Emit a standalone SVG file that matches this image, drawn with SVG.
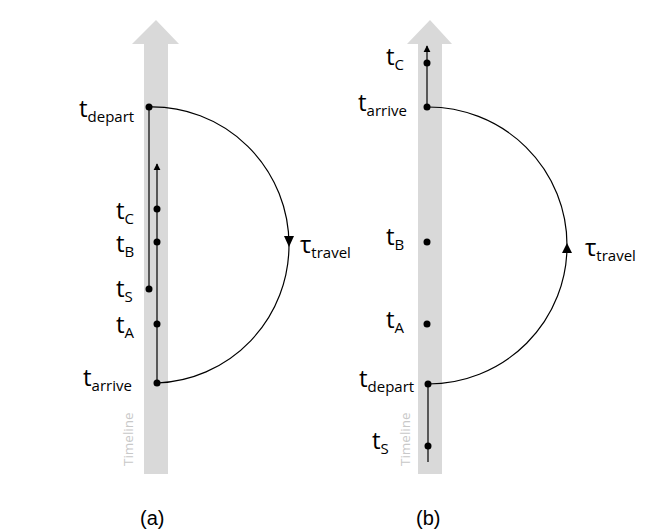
<svg xmlns="http://www.w3.org/2000/svg" width="650" height="532" viewBox="0 0 650 532">
<style>
.bar{fill:#d9d9d9}
.t{font-family:"Open Sans","Liberation Sans",sans-serif;font-size:24px;fill:#000}
.s{font-size:15px}
.tl{font-family:"Open Sans","Liberation Sans",sans-serif;font-size:13.5px;fill:#c8c8c8}
.cap{font-family:"Liberation Sans",sans-serif;font-size:20px;fill:#000}
.ln{stroke:#000;stroke-width:1.2;fill:none}
</style>
<defs>
<marker id="ah" viewBox="0 0 10 10" refX="9" refY="5" markerWidth="6" markerHeight="6" orient="auto"><path d="M0,0L10,5L0,10z" fill="#000"/></marker>
</defs>
<rect width="650" height="532" fill="#fff"/>
<g id="timeline-a">
<path class="bar" d="M144,474V44H132L156,20L179,44H168V474z"/>
<text class="tl" transform="translate(133,466) rotate(-90)">Timeline</text>
</g>
<g id="timeline-b">
<path class="bar" d="M418,474V44H407L430,20L452,44H442V474z"/>
<text class="tl" transform="translate(410,466) rotate(-90)">Timeline</text>
</g>
<g id="connectors">
<path class="ln" d="M149,107V289"/>
<path class="ln" d="M157,383V164" marker-end="url(#ah)"/>
<path class="ln" d="M149,107A137,138 0 0 1 289,245A137,138 0 0 1 157,383"/>
<path d="M284,236L294,236L289,247z" fill="#000"/>
<path class="ln" d="M427,107V46" marker-end="url(#ah)"/>
<path class="ln" d="M428,384V462"/>
<path class="ln" d="M428,384A139,138 0 0 0 567,245A139,138 0 0 0 427,107"/>
<path d="M562,253L572,253L567,243z" fill="#000"/>
</g>
<g id="nodes-a">
<circle cx="149" cy="107" r="3.5"/><circle cx="149" cy="289" r="3.5"/>
<circle cx="157" cy="209" r="3.5"/><circle cx="157" cy="242" r="3.5"/>
<circle cx="157" cy="324" r="3.5"/><circle cx="157" cy="383" r="3.5"/>
<text class="t" x="79" y="117">t<tspan class="s" dy="5">depart</tspan></text>
<text class="t" x="116" y="219">t<tspan class="s" dy="5">C</tspan></text>
<text class="t" x="116" y="252">t<tspan class="s" dy="5">B</tspan></text>
<text class="t" x="116" y="297">t<tspan class="s" dy="5">S</tspan></text>
<text class="t" x="116" y="333">t<tspan class="s" dy="5">A</tspan></text>
<text class="t" x="83" y="386">t<tspan class="s" dy="5">arrive</tspan></text>
<text class="t" x="300" y="253">τ<tspan class="s" dy="5">travel</tspan></text>
</g>
<g id="nodes-b">
<circle cx="427" cy="63" r="3.5"/><circle cx="427" cy="107" r="3.5"/>
<circle cx="427" cy="242" r="3.5"/><circle cx="427" cy="324" r="3.5"/>
<circle cx="428" cy="384" r="3.5"/><circle cx="428" cy="446" r="3.5"/>
<text class="t" x="386" y="65">t<tspan class="s" dy="5">C</tspan></text>
<text class="t" x="358" y="111">t<tspan class="s" dy="5">arrive</tspan></text>
<text class="t" x="386" y="245">t<tspan class="s" dy="5">B</tspan></text>
<text class="t" x="386" y="328">t<tspan class="s" dy="5">A</tspan></text>
<text class="t" x="359" y="387">t<tspan class="s" dy="5">depart</tspan></text>
<text class="t" x="372" y="449">t<tspan class="s" dy="5">S</tspan></text>
<text class="t" x="585" y="256">τ<tspan class="s" dy="5">travel</tspan></text>
</g>
<text class="cap" x="140" y="525">(a)</text>
<text class="cap" x="416" y="525">(b)</text>
</svg>
